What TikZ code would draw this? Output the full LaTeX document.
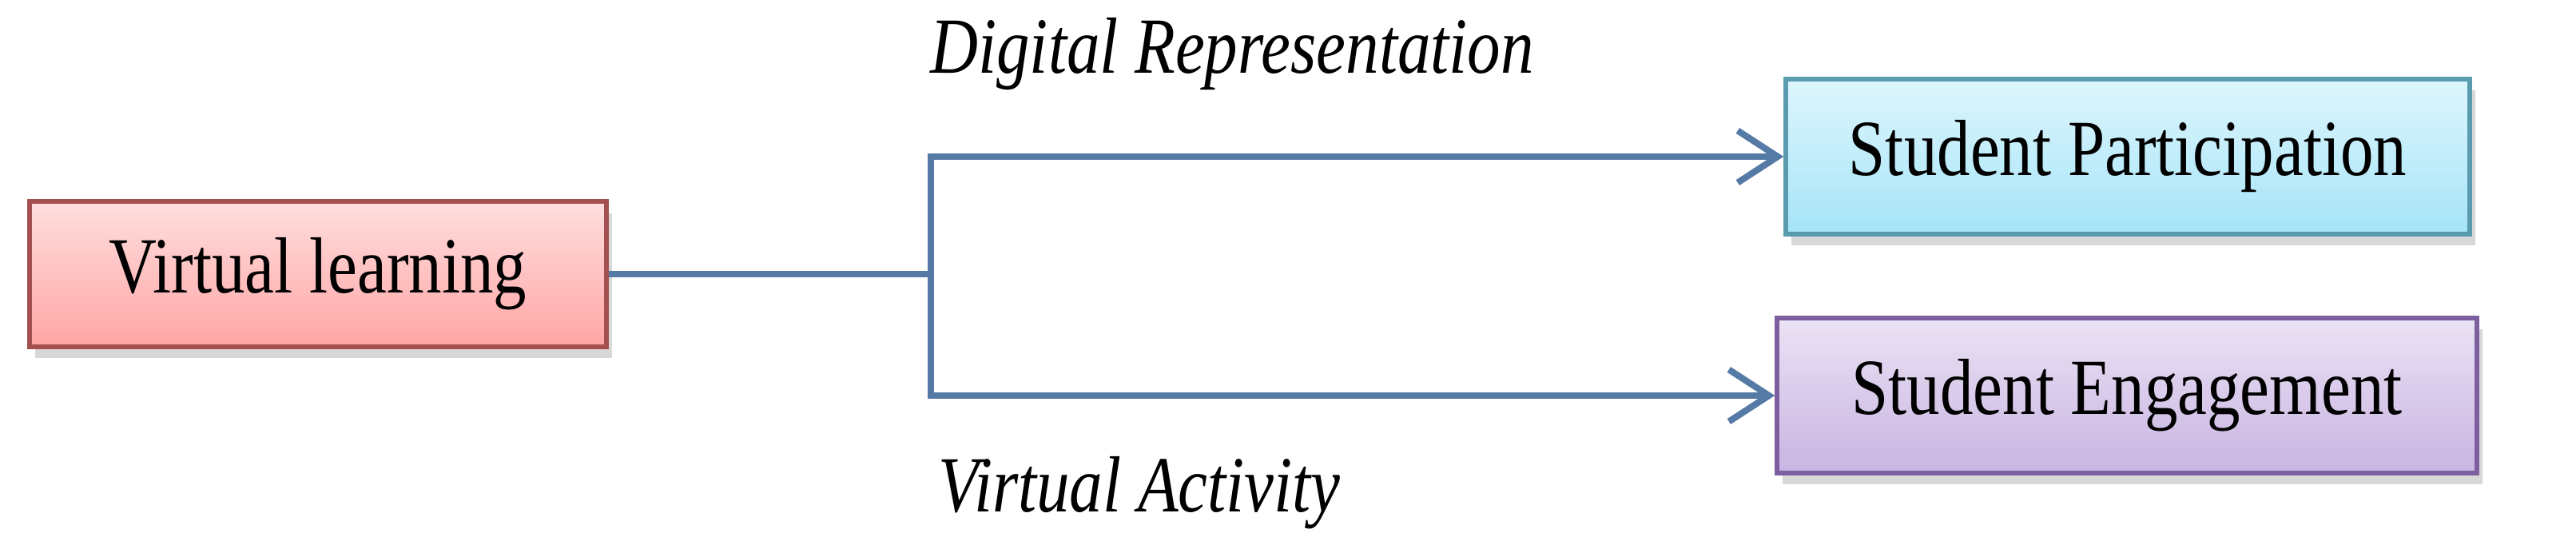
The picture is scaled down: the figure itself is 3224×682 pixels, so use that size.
\documentclass[tikz,border=0pt]{standalone}
\usepackage{fontspec}
\setmainfont{Liberation Serif}
\usetikzlibrary{arrows.meta,shadows}
\definecolor{linkblue}{RGB}{85,122,165}
\definecolor{learnline}{RGB}{165,80,80}
\definecolor{partline}{RGB}{90,155,175}
\definecolor{engline}{RGB}{125,95,160}
\newcommand{\tallfont}[1]{\scalebox{1}[1.2]{#1}}
\tikzset{
  box/.style={draw, line width=1.7pt, minimum height=1.94cm,
    font=\fontsize{23.6}{28}\selectfont,
    drop shadow={shadow xshift=2pt, shadow yshift=-4pt, opacity=0.3}},
  link/.style={draw=linkblue, line width=2.3pt, line join=miter},
  tip/.style={-{Straight Barb[length=0.5cm, width=0.65cm]}},
  pathlabel/.style={anchor=base west, font=\fontsize{23.6}{28}\selectfont\itshape}
}
\begin{document}
\begin{tikzpicture}[x=0.01cm, y=-0.01cm]
  \useasboundingbox[fill=white] (0,0) rectangle (3224,682);
  \node[box, draw=learnline, top color={rgb,255:red,255;green,222;blue,222},
    bottom color={rgb,255:red,255;green,165;blue,165},
    minimum width=7.22cm, minimum height=1.81cm] (learn) at (398,343) {\tallfont{Virtual learning}};
  \node[box, draw=partline, top color={rgb,255:red,222;green,246;blue,253},
    bottom color={rgb,255:red,165;green,228;blue,248},
    minimum width=8.55cm] (part) at (2663,196) {\tallfont{Student Participation}};
  \node[box, draw=engline, top color={rgb,255:red,234;green,226;blue,244},
    bottom color={rgb,255:red,200;green,180;blue,225},
    minimum width=8.75cm] (engage) at (2662,495) {\tallfont{Student Engagement}};
  % fork of the connectors
  \coordinate (fork) at (1165,343);
  \draw[link] (learn.east) -- (fork);
  \draw[link, tip] (fork) |- (part.west);
  \draw[link, tip] (fork) |- (engage.west);
  % path labels
  \node[pathlabel] (digital) at (1152,92) {\tallfont{Digital Representation}};
  \node[pathlabel] (activity) at (1162,640) {\tallfont{Virtual Activity}};
\end{tikzpicture}
\end{document}
